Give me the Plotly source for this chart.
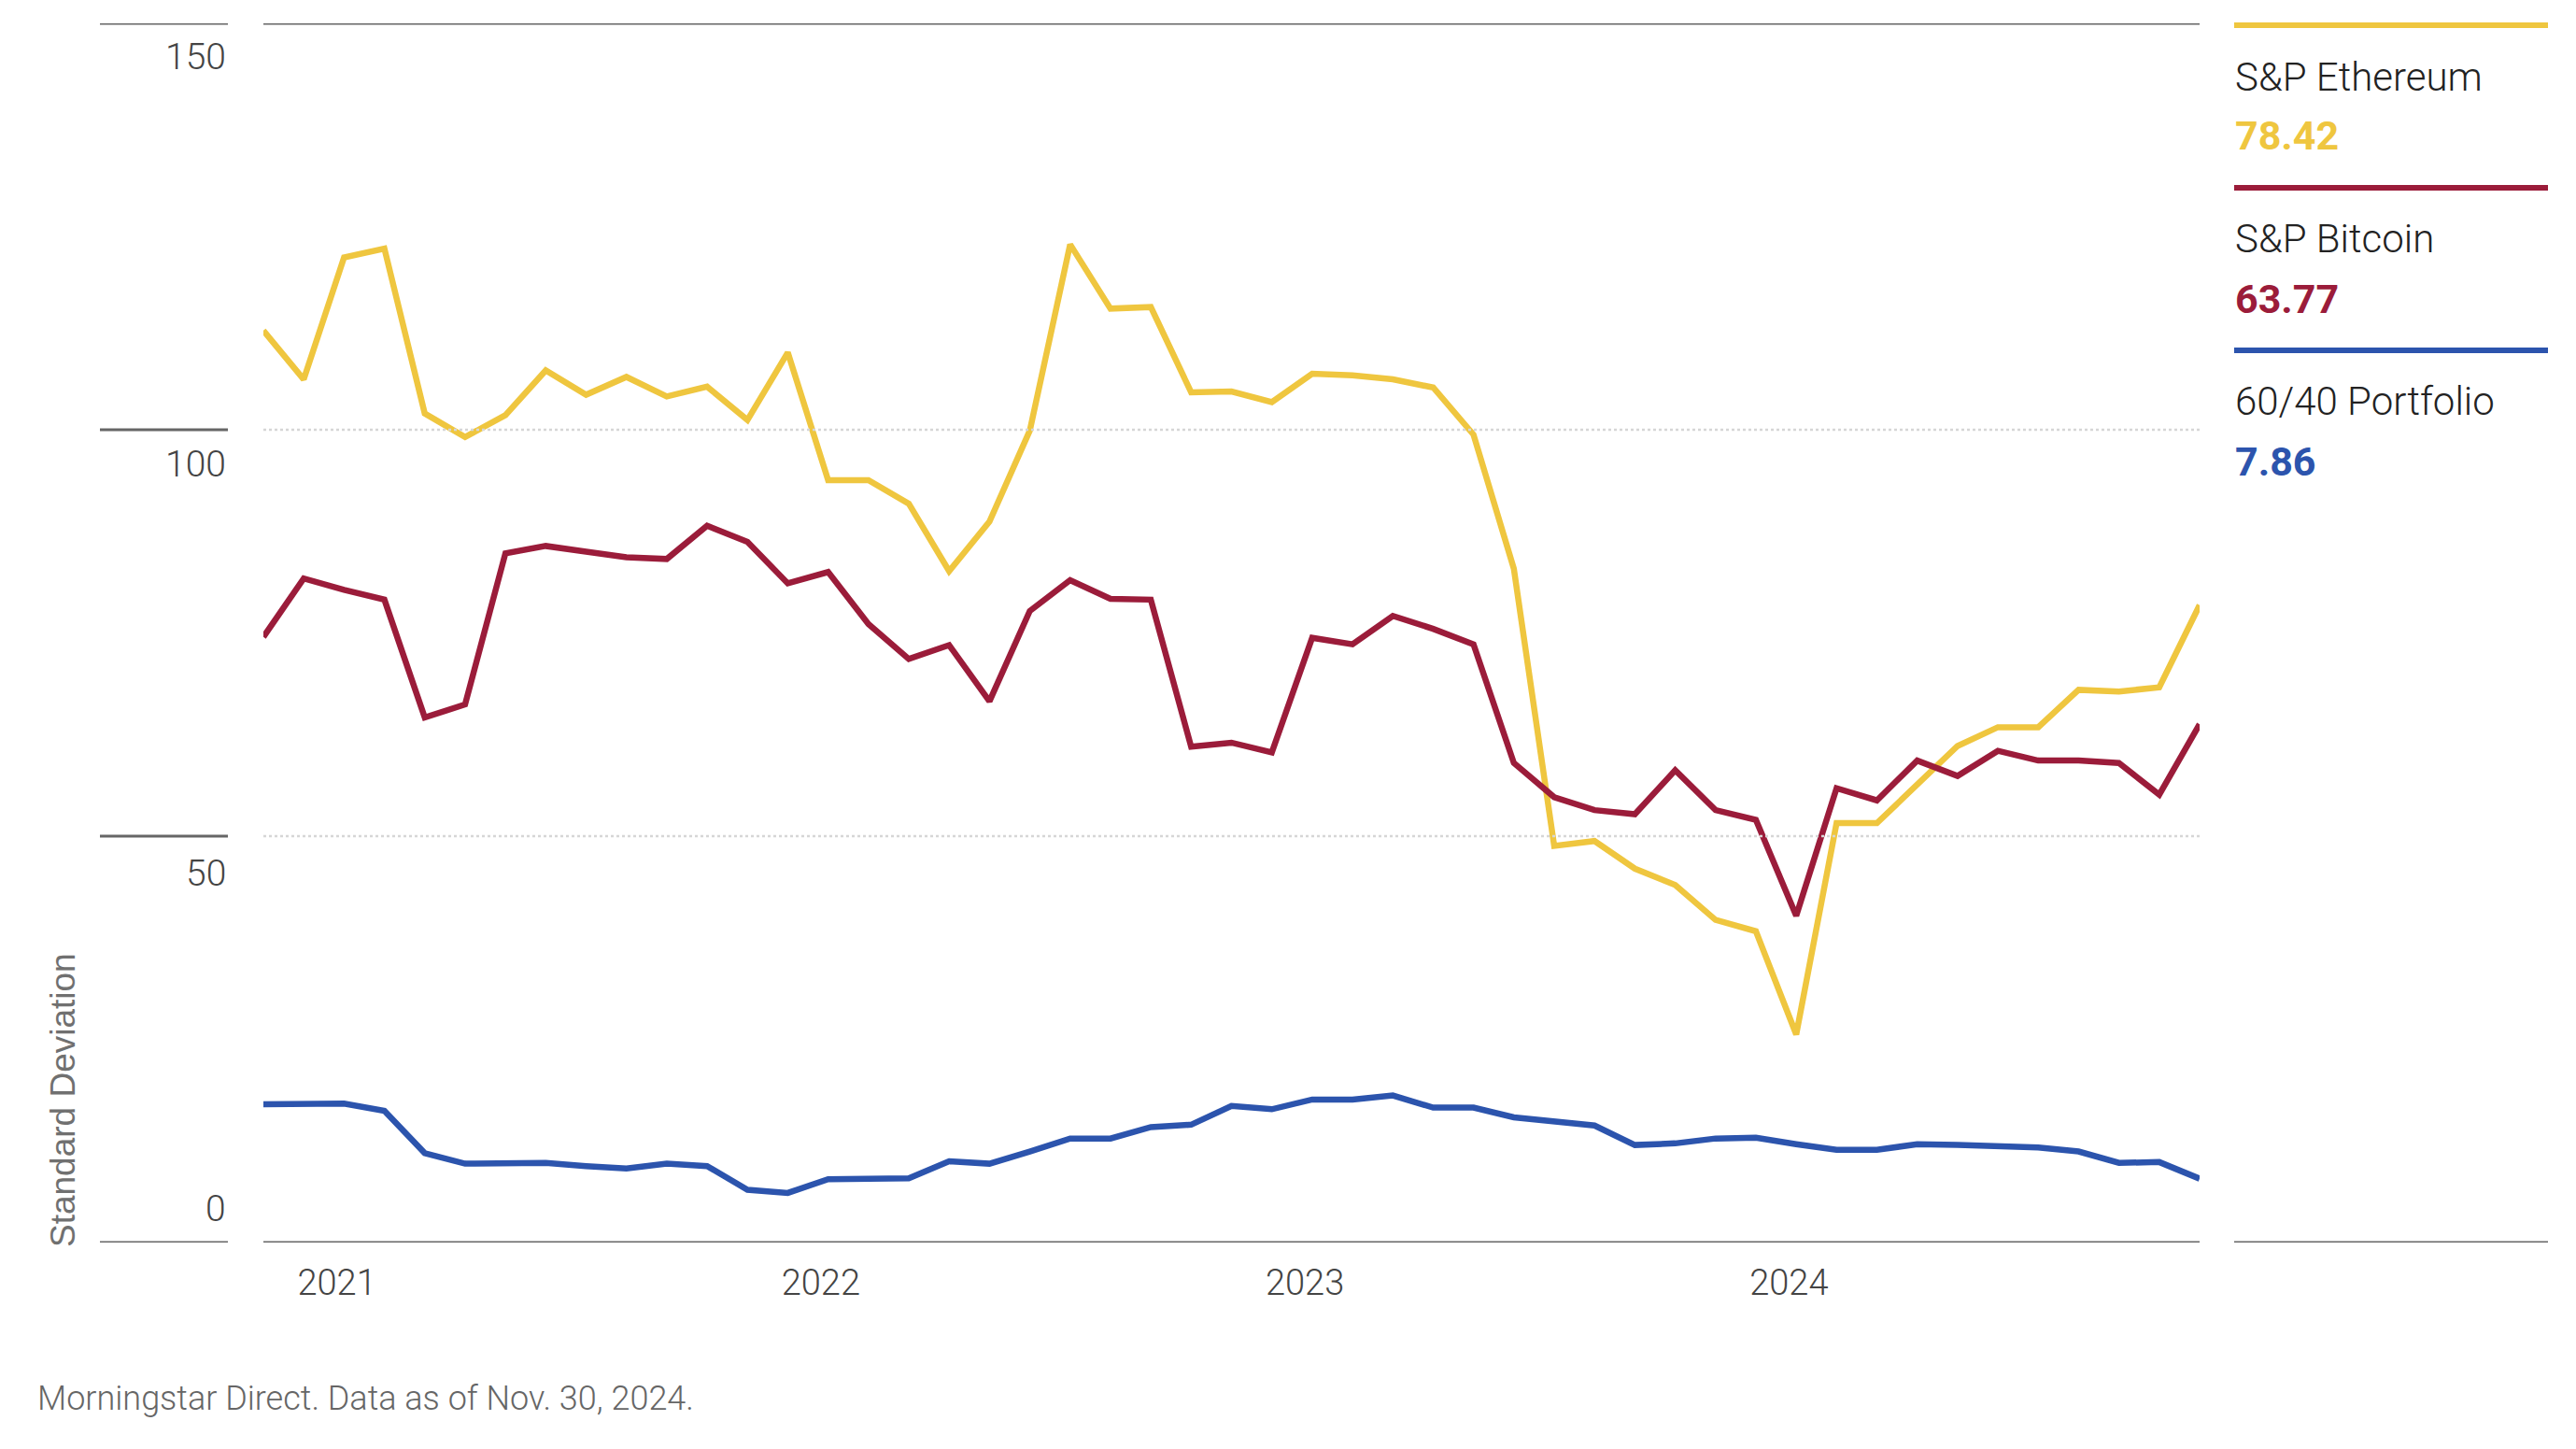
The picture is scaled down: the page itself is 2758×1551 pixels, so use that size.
import plotly.graph_objects as go

months = list(range(49))  # Nov 2020 .. Nov 2024, month-end

ethereum = [112.2, 106.2, 121.2, 122.3, 102.0, 99.1, 101.8, 107.3, 104.3, 106.5, 104.1, 105.3, 101.2,
            109.5, 93.8, 93.8, 90.9, 82.6, 88.7, 99.9, 122.8, 114.9, 115.1, 104.6, 104.7,
            103.4, 106.9, 106.7, 106.2, 105.2, 99.4, 82.9, 48.8, 49.4, 46.0, 44.0, 39.7,
            38.3, 25.6, 51.6, 51.6, 56.4, 61.1, 63.4, 63.4, 68.0, 67.8, 68.3, 78.42]

bitcoin = [74.5, 81.7, 80.3, 79.1, 64.6, 66.2, 84.8, 85.7, 85.0, 84.3, 84.1, 88.2, 86.2,
           81.1, 82.5, 76.1, 71.8, 73.5, 66.6, 77.7, 81.5, 79.2, 79.1, 61.0, 61.5,
           60.3, 74.4, 73.6, 77.1, 75.5, 73.6, 59.0, 54.8, 53.2, 52.7, 58.1, 53.2,
           52.0, 40.2, 55.9, 54.4, 59.3, 57.4, 60.5, 59.3, 59.3, 59.0, 55.1, 63.77]

portfolio = [17.0, 17.1, 17.1, 16.2, 11.0, 9.7, 9.7, 9.8, 9.4, 9.1, 9.7, 9.4, 6.5,
             6.1, 7.8, 7.9, 7.9, 10.0, 9.7, 11.2, 12.8, 12.8, 14.2, 14.5, 16.8,
             16.4, 17.6, 17.6, 18.1, 16.6, 16.6, 15.4, 14.9, 14.4, 12.0, 12.2, 12.8,
             12.9, 12.1, 11.4, 11.4, 12.1, 12.0, 11.8, 11.7, 11.2, 9.8, 9.9, 7.86]

year_ticks = [1.82, 13.82, 25.82, 37.82]
year_labels = ["2021", "2022", "2023", "2024"]
y_ticks = [150, 100, 50, 0]

series_names = ["S&P Ethereum", "S&P Bitcoin", "60/40 Portfolio"]
series_values = [ethereum, bitcoin, portfolio]
series_labels = ["78.42", "63.77", "7.86"]
colors = ["#EFC63F", "#9B1C3A", "#2C54AD"]

FONT = "Roboto, Liberation Sans, sans-serif"

fig = go.Figure()
for name, vals, c in zip(series_names, series_values, colors):
    fig.add_trace(go.Scatter(x=months, y=vals, mode="lines", name=name,
                             line=dict(color=c, width=6.5), showlegend=False))

OFF = 8  # page body margin
W, H = 2758 - 2 * OFF, 1551 - 2 * OFF
# plot area in screen pixels
L, R, T, B = 282, 2355, 25, 1330
pw = R - L
ph = B - T


def px(x):
    return (x - L) / pw


def py(y):
    return (B - y) / ph


shapes = []
for v in y_ticks:
    if v in (150, 0):
        shapes.append(dict(type="line", xref="paper", yref="y", x0=0, x1=1, y0=v, y1=v,
                           line=dict(color="#666666", width=3)))
    else:
        shapes.append(dict(type="line", xref="paper", yref="y", x0=0, x1=1, y0=v, y1=v,
                           line=dict(color="#d6d6d6", width=2.5, dash="dot")))
    shapes.append(dict(type="line", xref="paper", yref="y", x0=px(107), x1=px(244), y0=v, y1=v,
                       line=dict(color="#666666", width=3)))

bar_y = [27, 201, 375]
for c, yy in zip(colors, bar_y):
    shapes.append(dict(type="line", xref="paper", yref="paper", x0=px(2392), x1=px(2728),
                       y0=py(yy), y1=py(yy), line=dict(color=c, width=6)))
shapes.append(dict(type="line", xref="paper", yref="y", x0=px(2392), x1=px(2728), y0=0, y1=0,
                   line=dict(color="#666666", width=3)))

annotations = []
shifts = {150: -36, 100: -37, 50: -40, 0: 36}
for v in y_ticks:
    annotations.append(dict(x=px(244), y=v, xref="paper", yref="y", text=str(v), showarrow=False,
                            xanchor="right", yanchor="middle", yshift=shifts[v],
                            font=dict(family=FONT, size=39, color="#444444", weight=300)))

name_y = [82, 255, 430]
val_y = [145, 320, 494]
for name, lab, c, ny, vy in zip(series_names, series_labels, colors, name_y, val_y):
    annotations.append(dict(x=px(2391), y=py(ny), xref="paper", yref="paper", text=name,
                            showarrow=False, xanchor="left", yanchor="middle",
                            font=dict(family=FONT, size=42, color="#222222", weight=300)))
    annotations.append(dict(x=px(2391), y=py(vy), xref="paper", yref="paper", text=lab,
                            showarrow=False, xanchor="left", yanchor="middle",
                            font=dict(family=FONT, size=43, color=c, weight=700)))

annotations.append(dict(x=px(67), y=py(1178), xref="paper", yref="paper", text="Standard Deviation",
                        showarrow=False, textangle=-90, xanchor="center", yanchor="middle",
                        font=dict(family="Liberation Sans, Arial, sans-serif", size=37, color="#707070")))

annotations.append(dict(x=px(38), y=py(1497), xref="paper", yref="paper",
                        text="Morningstar Direct. Data as of Nov. 30, 2024.",
                        showarrow=False, xanchor="left", yanchor="middle",
                        font=dict(family=FONT, size=36, color="#666666", weight=300)))

fig.update_layout(
    width=W, height=H,
    margin=dict(l=L - OFF, r=W - (R - OFF), t=T - OFF, b=H - (B - OFF), pad=0),
    plot_bgcolor="white", paper_bgcolor="white",
    shapes=shapes, annotations=annotations,
    xaxis=dict(range=[0, 48], showgrid=False, zeroline=False, showline=False,
               tickmode="array", tickvals=year_ticks, ticktext=year_labels, ticks="",
               ticklabelstandoff=17,
               tickfont=dict(family=FONT, size=38, color="#444444", weight=300)),
    yaxis=dict(range=[0, 150], showgrid=False, zeroline=False, showline=False,
               showticklabels=False),
)

fig.write_html("out.html")
